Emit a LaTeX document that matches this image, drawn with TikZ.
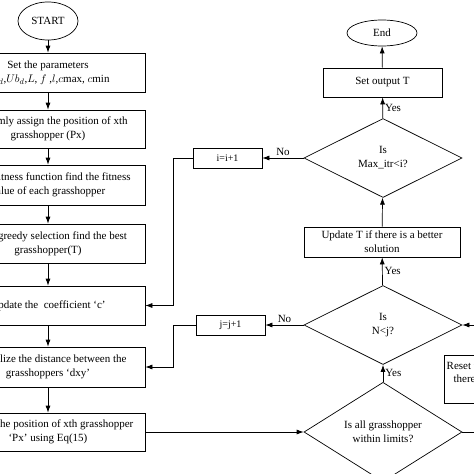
\documentclass[tikz,border=0pt]{standalone}
\usepackage{fontspec}
\setmainfont{Liberation Serif}
\usepackage{tikz}
\usetikzlibrary{arrows.meta,positioning,shapes.geometric}
\tikzset{
    processbox/.style={
        draw,
        align=center,
        font=\fontsize{11}{14}\selectfont,
        inner sep=2pt,
        minimum width=194pt,
        minimum height=39pt
    },
    smallbox/.style={
        draw,
        align=center,
        font=\fontsize{10}{11}\selectfont,
        inner sep=1pt,
        minimum width=69pt,
        minimum height=20pt
    },
    decision/.style={
        draw,
        diamond,
        align=center,
        font=\fontsize{11}{14}\selectfont,
        inner sep=0pt,
        minimum width=158pt,
        minimum height=79pt
    },
    terminal/.style={
        draw,
        ellipse,
        font=\fontsize{11}{12}\selectfont,
        inner sep=0pt
    },
    flowarrow/.style={
        -{Latex[length=7pt,width=5pt]},
        line width=0.7pt
    },
    flowlabel/.style={
        font=\fontsize{11}{12}\selectfont,
        inner sep=2pt
    }
}
\begin{document}
\begin{tikzpicture}[x=1pt,y=-1pt,line width=0.7pt]
    \useasboundingbox (0,0) rectangle (474,474);
    \clip (0,0) rectangle (474,474);

    % left column
    \node[terminal, minimum width=60pt, minimum height=38pt] (start) at (48,21) {START};
    \node[processbox] (params) at (48,72.5) {Set the parameters\\ $Lb_d$,$Ub_d$,$L$, $f$ ,$l$,$c$max, $c$min};
    \node[processbox, minimum height=38pt] (assign) at (48,129) {Randomly assign the position of xth\\ grasshopper (Px)};
    \node[processbox, minimum height=40pt] (fitness) at (48,185) {Using fitness function find the fitness\\ value of each grasshopper};
    \node[processbox] (greedy) at (48,243.5) {Using greedy selection find the best\\ grasshopper(T)};
    \node[processbox] (coeff) at (48,305.5) {Update the~ coefficient ‘c’};
    \node[processbox, minimum height=40pt] (normalize) at (48,367) {Normalize the distance between the\\ grasshoppers ‘dxy’};
    \node[processbox, minimum height=38pt] (position) at (48,432) {Update the position of xth grasshopper\\ ‘Px’ using Eq(15)};

    % right column
    \node[terminal, minimum width=70pt, minimum height=26pt] (finish) at (382,33) {End};
    \node[processbox, minimum width=119pt, minimum height=29pt] (output) at (382.5,82.5) {Set output T};
    \node[decision] (checki) at (383,158) {Is\\ Max\_itr<i?};
    \node[processbox, minimum width=156pt, minimum height=30pt] (update) at (382,242) {Update T if there is a better\\ solution};
    \node[decision] (checkj) at (383,325) {Is\\ N<j?};
    \node[decision] (within) at (383,432) {Is all grasshopper\\ within limits?};
    \node[processbox, minimum width=100pt, minimum height=48pt, font=\fontsize{11}{13}\selectfont] (reset) at (495,379) {Reset the grasshopper\\ there is outside the\\ limits};

    % counters
    \node[smallbox] (inci) at (227.5,158) {i=i+1};
    \node[smallbox] (incj) at (230.5,325) {j=j+1};
    \coordinate (loop) at (173,0);

    % main flow
    \draw[flowarrow] (start) -- (params);
    \draw[flowarrow] (params) -- (assign);
    \draw[flowarrow] (assign) -- (fitness);
    \draw[flowarrow] (fitness) -- (greedy);
    \draw[flowarrow] (greedy) -- (coeff);
    \draw[flowarrow] (coeff) -- (normalize);
    \draw[flowarrow] (normalize) -- (position);
    \draw[flowarrow] (position) -- (within);

    \draw[flowarrow] (within) -- node[flowlabel, right] {Yes} (checkj);
    \draw[flowarrow] (checkj) -- node[flowlabel, right] {Yes} (update);
    \draw[flowarrow] (update) -- (checki);
    \draw[flowarrow] (checki) -- node[flowlabel, right] {Yes} (output);
    \draw[flowarrow] (output) -- (finish);

    % loops
    \draw[flowarrow] (checki) -- node[flowlabel, above] {No} (inci);
    \draw[flowarrow] (inci.west) -- (inci.west -| loop) |- (coeff.east);
    \draw[flowarrow] (checkj) -- node[flowlabel, above] {No} (incj);
    \draw[flowarrow] (incj.west) -- (incj.west -| loop) |- (normalize.east);

    \draw[flowarrow] (within.east) -| (reset.south);
    \draw[flowarrow] (reset.north) |- (checkj.east);
\end{tikzpicture}
\end{document}
